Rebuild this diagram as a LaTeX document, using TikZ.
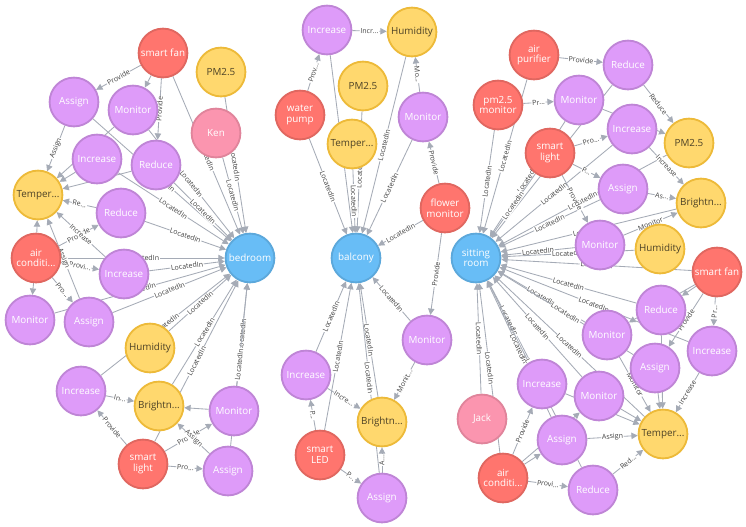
\documentclass[tikz,border=0pt]{standalone}
\usepackage{fontspec}
\setmainfont{Open Sans}
\usetikzlibrary{arrows.meta,backgrounds}
\definecolor{devred}{HTML}{FF756E}
\definecolor{devredline}{HTML}{E06760}
\definecolor{funpurple}{HTML}{DE9BF9}
\definecolor{funpurpleline}{HTML}{BF85D6}
\definecolor{propyellow}{HTML}{FFD86E}
\definecolor{propyellowline}{HTML}{EDBA39}
\definecolor{proptext}{HTML}{4D4226}
\definecolor{roomblue}{HTML}{68BDF6}
\definecolor{roomblueline}{HTML}{5CA8DB}
\definecolor{personpink}{HTML}{FB95AF}
\definecolor{personpinkline}{HTML}{E0849B}
\definecolor{relgray}{HTML}{A5ABB6}
\begin{document}
\begin{tikzpicture}[x=0.025cm, y=-0.025cm, font=\fontsize{7}{7.6}\selectfont,
  ball/.style={circle, minimum size=1.22cm, inner sep=0pt, align=center, line width=1.3pt, text=white},
  dev/.style={ball, fill=devred, draw=devredline},
  fun/.style={ball, fill=funpurple, draw=funpurpleline},
  prop/.style={ball, fill=propyellow, draw=propyellowline, text=proptext},
  room/.style={ball, fill=roomblue, draw=roomblueline},
  person/.style={ball, fill=personpink, draw=personpinkline},
  rel/.style={draw=relgray, line width=0.6pt, -{Triangle[length=4.5pt,width=4.5pt]}},
  lbl/.style={midway, sloped, fill=white, inner sep=0.5pt, font=\fontsize{5}{5}\selectfont, text=black!75}]
  \useasboundingbox (0,0) rectangle (746,527);

  % bedroom
  \node[room] (bedroom) at (250,258) {bedroom};
  \node[dev] (bFan) at (163,53) {smart fan};
  \node[prop] (bPM) at (221,72) {PM2.5};
  \node[person] (ken) at (216,133) {Ken};
  \node[fun] (bAsg1) at (74,102) {Assign};
  \node[fun] (bMon1) at (133,110) {Monitor};
  \node[fun] (bInc1) at (97,159) {Increase};
  \node[fun] (bRed1) at (156,165) {Reduce};
  \node[prop] (bTemp) at (38,195) {Temper...};
  \node[fun] (bRed2) at (121,213) {Reduce};
  \node[dev] (bAC) at (36,258) {air\\conditi...};
  \node[fun] (bInc2) at (124,274) {Increase};
  \node[fun] (bMon2) at (30,320) {Monitor};
  \node[fun] (bAsg2) at (89,322) {Assign};
  \node[prop] (bHum) at (150,348) {Humidity};
  \node[fun] (bInc3) at (81,391) {Increase};
  \node[prop] (bBri) at (159,406) {Brightn...};
  \node[fun] (bMon3) at (234,411) {Monitor};
  \node[dev] (bLight) at (143,464) {smart\\light};
  \node[fun] (bAsg3) at (228,471) {Assign};

  % balcony
  \node[room] (balcony) at (356,258) {balcony};
  \node[fun] (kInc1) at (327,30) {Increase};
  \node[prop] (kHum) at (412,32) {Humidity};
  \node[prop] (kPM) at (363,86) {PM2.5};
  \node[dev] (kPump) at (300,115) {water\\pump};
  \node[prop] (kTemp) at (352,144) {Temper...};
  \node[fun] (kMon1) at (423,117) {Monitor};
  \node[dev] (kFlower) at (445,208) {flower\\monitor};
  \node[fun] (kMon2) at (427,340) {Monitor};
  \node[fun] (kInc2) at (306,375) {Increase};
  \node[prop] (kBri) at (382,422) {Brightn...};
  \node[dev] (kLED) at (320,455) {smart\\LED};
  \node[fun] (kAsg) at (382,498) {Assign};

  % sitting room
  \node[room] (sitting) at (476,258) {sitting\\room};
  \node[dev] (sPurifier) at (534,55) {air\\purifier};
  \node[fun] (sRed1) at (628,65) {Reduce};
  \node[dev] (sPMmon) at (498,105) {pm2.5\\monitor};
  \node[fun] (sMon1) at (579,100) {Monitor};
  \node[dev] (sLight) at (550,153) {smart\\light};
  \node[fun] (sInc1) at (632,129) {Increase};
  \node[prop] (sPM) at (689,143) {PM2.5};
  \node[fun] (sAsg1) at (623,189) {Assign};
  \node[prop] (sBri) at (701,203) {Brightn...};
  \node[fun] (sMon2) at (600,245) {Monitor};
  \node[prop] (sHum) at (660,249) {Humidity};
  \node[dev] (sFan) at (717,272) {smart fan};
  \node[fun] (sRed2) at (661,310) {Reduce};
  \node[fun] (sMon3) at (607,335) {Monitor};
  \node[fun] (sInc2) at (712,351) {Increase};
  \node[fun] (sAsg2) at (655,368) {Assign};
  \node[fun] (sInc3) at (542,384) {Increase};
  \node[fun] (sMon4) at (599,396) {Monitor};
  \node[person] (jack) at (482,419) {Jack};
  \node[fun] (sAsg3) at (562,440) {Assign};
  \node[prop] (sTemp) at (663,434) {Temper...};
  \node[dev] (sAC) at (503,478) {air\\conditi...};
  \node[fun] (sRed3) at (593,490) {Reduce};

  \begin{scope}[on background layer]
    \fill[white] (0,0) rectangle (746,527);
    \foreach \n in {bFan,bPM,ken,bAsg1,bMon1,bInc1,bRed1,bRed2,bAC,bInc2,bMon2,bAsg2,bHum,bInc3,bBri,bMon3,bLight,bAsg3}
      \draw[rel] (\n) -- node[lbl] {LocatedIn} (bedroom);
    \draw[rel] (bFan) -- node[lbl] {Provide} (bAsg1);
    \draw[rel] (bFan) -- (bMon1);
    \draw[rel] (bFan) -- node[lbl] {Provide} (bRed1);
    \draw[rel] (bAsg1) -- node[lbl] {Assign} (bTemp);
    \draw[rel] (bMon1) -- (bTemp);
    \draw[rel] (bInc1) -- (bTemp);
    \draw[rel] (bRed1) -- node[lbl] {Re...} (bTemp);
    \draw[rel] (bRed2) -- node[lbl] {Re...} (bTemp);
    \draw[rel] (bAC) -- (bTemp);
    \draw[rel] (bAC) -- node[lbl] {Provide} (bRed2);
    \draw[rel] (bAC) -- node[lbl] {Provi...} (bInc2);
    \draw[rel] (bAC) -- (bMon2);
    \draw[rel] (bAC) -- node[lbl] {Pro...} (bAsg2);
    \draw[rel] (bInc2) -- node[lbl] {Increase} (bTemp);
    \draw[rel] (bAsg2) -- node[lbl] {Assign} (bTemp);
    \draw[rel] (bInc3) -- node[lbl] {In...} (bBri);
    \draw[rel] (bLight) -- node[lbl] {Provide} (bInc3);
    \draw[rel] (bLight) -- node[lbl] {Provide} (bMon3);
    \draw[rel] (bLight) -- node[lbl] {Pro...} (bAsg3);
    \draw[rel] (bMon3) -- (bBri);
    \draw[rel] (bAsg3) -- node[lbl] {Assign} (bBri);

    \foreach \n in {kInc1,kPM,kPump,kTemp,kHum,kMon1,kFlower,kMon2,kInc2,kLED,kBri,kAsg}
      \draw[rel] (\n) -- node[lbl] {LocatedIn} (balcony);
    \draw[rel] (kInc1) -- node[lbl] {Incr...} (kHum);
    \draw[rel] (kPump) -- node[lbl] {Prov...} (kInc1);
    \draw[rel] (kMon1) -- node[lbl] {Mo...} (kHum);
    \draw[rel] (kFlower) -- node[lbl] {Provide} (kMon1);
    \draw[rel] (kFlower) -- node[lbl] {Provide} (kMon2);
    \draw[rel] (kMon2) -- node[lbl] {Monit...} (kBri);
    \draw[rel] (kInc2) -- node[lbl] {Incre...} (kBri);
    \draw[rel] (kLED) -- node[lbl] {P...} (kInc2);
    \draw[rel] (kLED) -- node[lbl] {P...} (kAsg);
    \draw[rel] (kAsg) -- node[lbl] {A...} (kBri);

    \foreach \n in {sPurifier,sRed1,sPMmon,sMon1,sLight,sInc1,sPM,sAsg1,sBri,sMon2,sHum,sFan,sRed2,sMon3,sInc2,sAsg2,sInc3,sMon4,jack,sAsg3,sTemp,sAC,sRed3}
      \draw[rel] (\n) -- node[lbl] {LocatedIn} (sitting);
    \draw[rel] (sPurifier) -- node[lbl] {Provide} (sRed1);
    \draw[rel] (sPMmon) -- node[lbl] {Pr...} (sMon1);
    \draw[rel] (sRed1) -- node[lbl] {Reduce} (sPM);
    \draw[rel] (sMon1) -- (sPM);
    \draw[rel] (sLight) -- node[lbl] {Pro...} (sInc1);
    \draw[rel] (sLight) -- node[lbl] {P...} (sAsg1);
    \draw[rel] (sLight) -- node[lbl] {Provide} (sMon2);
    \draw[rel] (sInc1) -- node[lbl] {Increase} (sBri);
    \draw[rel] (sAsg1) -- node[lbl] {As...} (sBri);
    \draw[rel] (sMon2) -- node[lbl] {Monitor} (sBri);
    \draw[rel] (sFan) -- (sRed2);
    \draw[rel] (sFan) -- (sMon3);
    \draw[rel] (sFan) -- node[lbl] {Provide} (sAsg2);
    \draw[rel] (sFan) -- node[lbl] {Pr...} (sInc2);
    \draw[rel] (sRed2) -- (sTemp);
    \draw[rel] (sMon3) -- node[lbl] {Monitor} (sTemp);
    \draw[rel] (sAsg2) -- (sTemp);
    \draw[rel] (sInc2) -- node[lbl] {Increase} (sTemp);
    \draw[rel] (sInc3) -- (sTemp);
    \draw[rel] (sMon4) -- (sTemp);
    \draw[rel] (sAC) -- node[lbl] {Provide} (sInc3);
    \draw[rel] (sAC) -- (sAsg3);
    \draw[rel] (sAC) -- (sMon4);
    \draw[rel] (sAC) -- node[lbl] {Provi...} (sRed3);
    \draw[rel] (sAsg3) -- node[lbl] {Assign} (sTemp);
    \draw[rel] (sRed3) -- node[lbl] {Red...} (sTemp);
  \end{scope}
\end{tikzpicture}
\end{document}
